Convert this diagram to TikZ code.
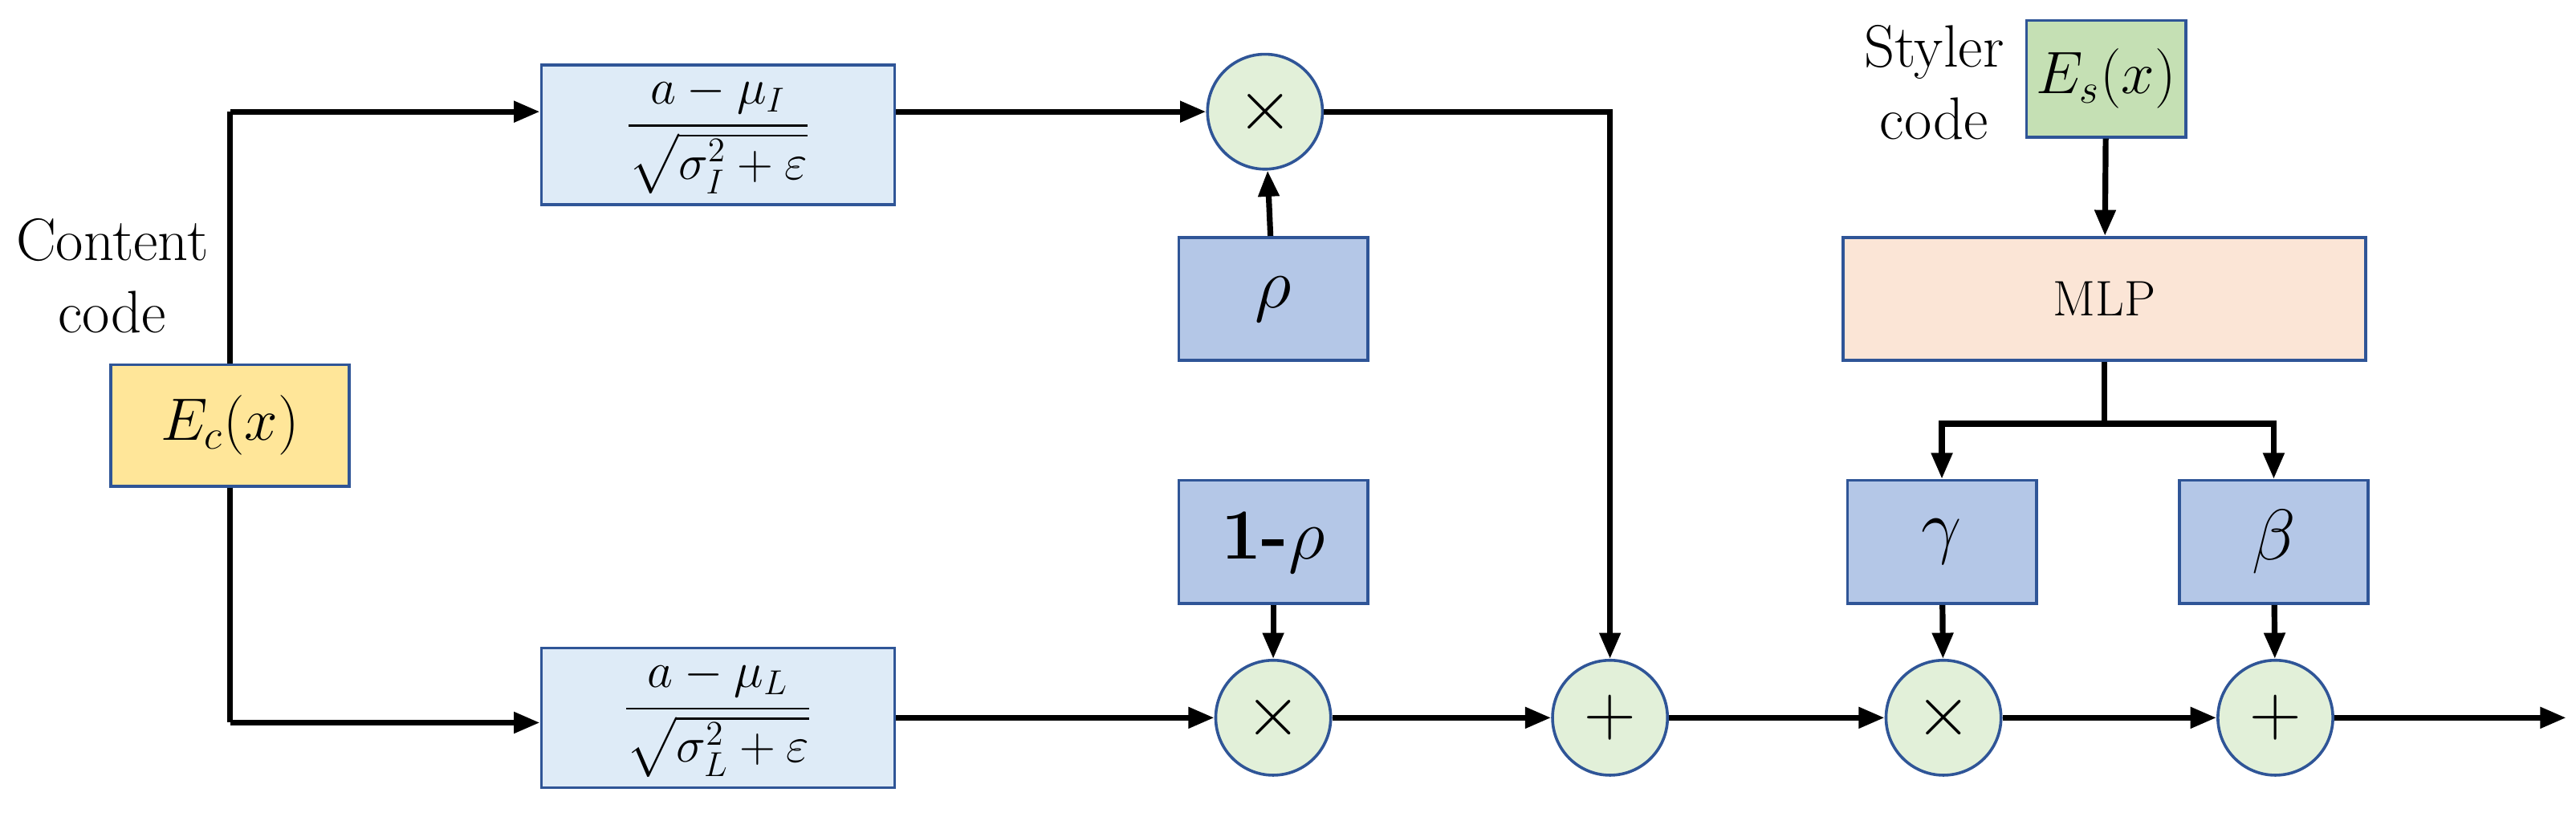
\documentclass[tikz,border=0pt]{standalone}
\usepackage{amsmath}
\usetikzlibrary{arrows.meta}
\definecolor{bd}{HTML}{2F5597}
\definecolor{cy}{HTML}{FFE699}
\definecolor{cb}{HTML}{B4C7E7}
\definecolor{cl}{HTML}{DEEBF7}
\definecolor{cg}{HTML}{E2F0D9}
\definecolor{ce}{HTML}{C5E0B4}
\definecolor{co}{HTML}{FBE5D6}
\begin{document}
\begin{tikzpicture}[x=0.02cm,y=-0.02cm,
 box/.style={draw=bd,line width=1pt,minimum width=#1*0.02cm},
 bl/.style={box=115,fill=cb,minimum height=1.5cm,font=\Huge},
 nb/.style={box=215,fill=cl,minimum height=1.7cm,inner sep=1pt,font=\LARGE},
 op/.style={circle,draw=bd,line width=1pt,fill=cg,minimum size=1.4cm,inner sep=0pt,font=\Huge},
 ar/.style={line width=2pt,-{Triangle[length=9pt,width=7pt]}},
 ln/.style={line width=2pt}]
\useasboundingbox (0,0) rectangle (1568,507);
\node[box=145,fill=cy,minimum height=1.48cm,font=\huge] (ec) at (140,259) {$E_c(x)$};
\node[align=center,font=\huge,anchor=east] (cc) at (133,168) {Content\\code};
\node[nb] (n1) at (437,82) {$\dfrac{a-\mu_I}{\sqrt{\sigma_I^2+\varepsilon}}$};
\node[nb] (n2) at (437,437) {$\dfrac{a-\mu_L}{\sqrt{\sigma_L^2+\varepsilon}}$};
\node[op] (m1) at (770,68) {$\times$};
\node[bl] (rho) at (775,182) {$\rho$};
\node[bl] (orho) at (775,330) {\textbf{1-}$\rho$};
\node[op] (m2) at (775,437) {$\times$};
\node[op] (p1) at (980,437) {$+$};
\node[op] (m3) at (1183,437) {$\times$};
\node[op] (p2) at (1385,437) {$+$};
\coordinate (end) at (1562,437);
\node[box=97,fill=ce,minimum height=1.42cm,font=\huge] (es) at (1282,48) {$E_s(x)$};
\node[align=center,font=\huge,anchor=east] (sc) at (1226,50) {Styler\\code};
\node[box=318,fill=co,minimum height=1.5cm,font=\LARGE] (mlp) at (1281,182) {MLP};
\node[bl] (ga) at (1182,330) {$\gamma$};
\node[bl] (be) at (1384,330) {$\beta$};
\draw[ln] (ec.north) -- (ec.north|-0,68) coordinate (tc);
\draw[ar] (tc) -- (tc-|n1.west);
\draw[ln] (ec.south) -- (ec.south|-0,440) coordinate (bc);
\draw[ar] (bc) -- (bc-|n2.west);
\draw[ar] (n1.east|-m1) -- (m1);
\draw[ar] (rho) -- (m1);
\draw[ar] (orho) -- (m2);
\draw[ar] (n2.east|-m2) -- (m2);
\draw[ar] (m2) -- (p1);
\draw[ar] (m1) -| (p1);
\draw[ar] (p1) -- (m3);
\draw[ar] (m3) -- (p2);
\draw[ar] (p2) -- (end);
\draw[ar] (ga) -- (m3);
\draw[ar] (be) -- (p2);
\draw[ar] (es) -- (mlp);
\draw[ln] (mlp.south) -- (1281,258) coordinate (sp);
\draw[ar] (sp) -| (ga.north);
\draw[ar] (sp) -| (be.north);
\end{tikzpicture}
\end{document}
